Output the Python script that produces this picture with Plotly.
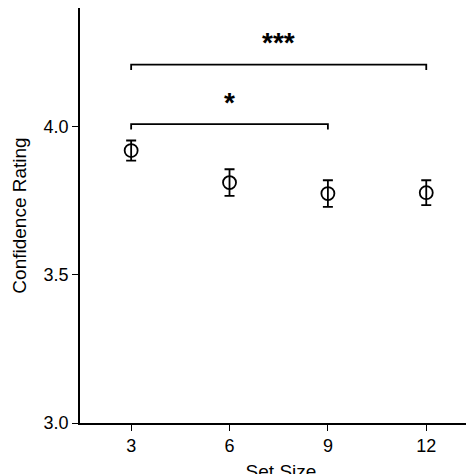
import plotly.graph_objects as go

set_size = [3, 6, 9, 12]
confidence = [3.919, 3.811, 3.774, 3.777]
error = [0.034, 0.045, 0.045, 0.042]
x_ticks = [3, 6, 9, 12]
y_ticks = [3.0, 3.5, 4.0]
y_tick_labels = ["3.0", "3.5", "4.0"]
brackets = [(3, 12, 4.209, "***"), (3, 9, 4.008, "*")]

fig = go.Figure()
fig.add_trace(go.Scatter(
    x=set_size, y=confidence, mode="markers",
    marker=dict(symbol="circle-open", size=13, color="black", line=dict(width=1.8)),
    error_y=dict(type="data", array=error, color="black", thickness=1.8, width=5),
    showlegend=False))

for x0, x1, yb, label in brackets:
    fig.add_trace(go.Scatter(
        x=[x0, x0, x1, x1], y=[yb - 0.018, yb, yb, yb - 0.018], mode="lines",
        line=dict(color="black", width=1.8), showlegend=False, hoverinfo="skip"))
    fig.add_annotation(x=(x0 + x1) / 2, y=yb + 0.015, text="<b>" + label + "</b>",
                       showarrow=False, yanchor="bottom",
                       font=dict(size=28, color="black"))

fig.update_layout(
    width=474, height=474, autosize=False,
    margin=dict(l=72, r=0, t=0, b=59),
    plot_bgcolor="white", paper_bgcolor="white",
    font=dict(family="Liberation Sans, Arial, sans-serif", size=18, color="black"),
    xaxis=dict(range=[1.44, 13.7], tickvals=x_ticks, showgrid=False, zeroline=False,
               showline=True, linecolor="black", linewidth=1.5, ticks="outside",
               ticklen=6, tickcolor="black", automargin=False,
               title=dict(text="Set Size", font=dict(size=19), standoff=10)),
    yaxis=dict(range=[3.0, 4.40], tickvals=y_ticks, ticktext=y_tick_labels,
               showgrid=False, zeroline=False, showline=True, linecolor="black",
               linewidth=1.5, ticks="outside", ticklen=6, tickcolor="black",
               automargin=False,
               title=dict(text="Confidence Rating", font=dict(size=19), standoff=12)),
)
fig.write_html("out.html")
